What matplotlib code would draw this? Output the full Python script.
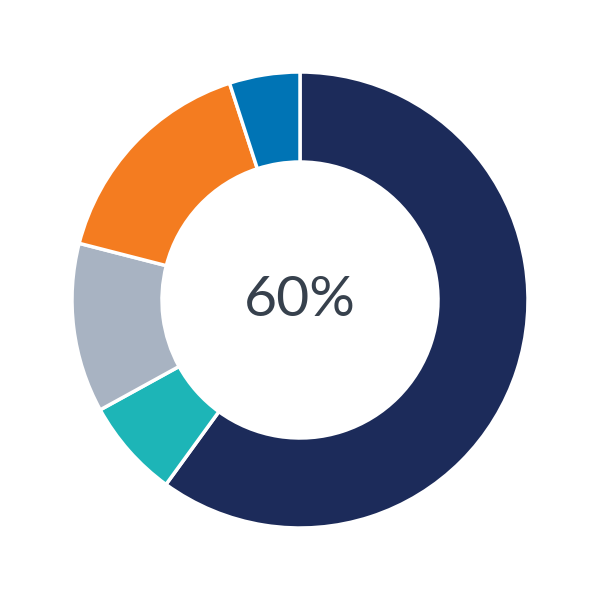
import matplotlib
matplotlib.use('Agg')
import matplotlib.pyplot as plt

# ── Data ───────────────────────────────────────────────────────────────────────
labels = ['Navy', 'Teal', 'Gray', 'Orange', 'Blue']
shares = [60, 7, 12, 16, 5]
colors = ['#1c2b5a', '#1db5b7', '#a8b3c2', '#f47c20', '#0074b5']
center_label = '60%'

fig = plt.figure(figsize=(6, 6), dpi=100)
ax = fig.add_axes([0, 0, 1, 1])

outer_r = 228
ring_w = 90
ax.pie(shares, colors=colors, radius=outer_r, startangle=90, counterclock=False,
       wedgeprops=dict(width=ring_w, edgecolor='white', linewidth=2.5))

ax.text(0, 0, center_label, ha='center', va='center', fontsize=41,
        family=['Lato', 'DejaVu Sans'], fontweight='normal', color='#37414d')

ax.set_xlim(-300, 300)
ax.set_ylim(-300, 300)
ax.set_aspect('equal')
ax.axis('off')

fig.savefig('out.png', dpi=100, facecolor='white')
